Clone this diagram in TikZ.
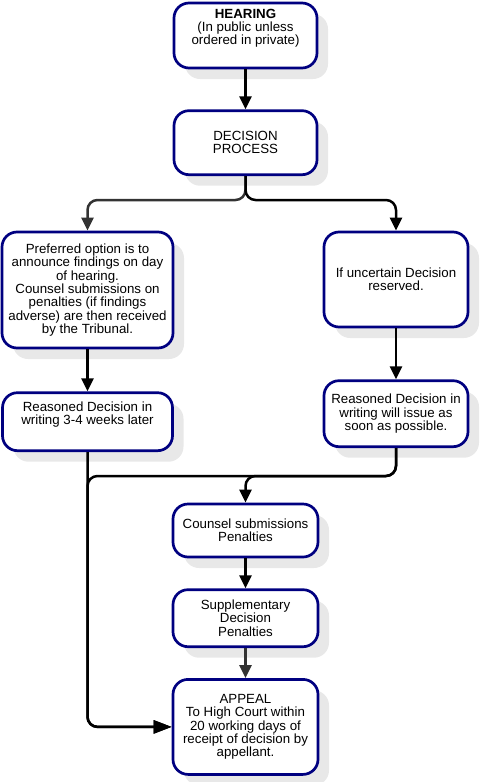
\documentclass[tikz,border=0pt]{standalone}
\usepackage{fontspec}
\setmainfont{Liberation Sans}
\usetikzlibrary{positioning,shadows,arrows.meta}
\definecolor{navy}{RGB}{0,0,128}

\begin{document}
\begin{tikzpicture}[x=1pt,y=-1pt]
		\tikzstyle{BoxStyle}  = [shape=rectangle, rounded corners=15pt, draw=navy, line width=2.7pt, fill=white,
		                         align=center, inner sep=0pt, font=\fontsize{13.3}{13.3}\selectfont,
		                         general shadow={fill=black!9, shadow xshift=11pt, shadow yshift=-11pt}]
		\tikzstyle{EdgeStyle} = [->, >={Triangle[width=12pt,length=13pt]}, line width=2.5pt, rounded corners=10pt]
		\useasboundingbox (0,0) rectangle (482,782);

		\node[BoxStyle, minimum width=143pt, minimum height=65pt] (hear) at (245.5,35.5) {\textbf{HEARING}\\(In public unless\\ordered in private)\\\strut};
		\node[BoxStyle, minimum width=143pt, minimum height=64pt, below=40pt of hear] (dec) {DECISION\\PROCESS};
		\node[BoxStyle, minimum width=171pt, minimum height=116pt] (pref) at (87.5,290) {Preferred option is to\\announce findings on day\\of hearing.\\Counsel submissions on\\penalties (if findings\\adverse) are then received\\by the Tribunal.};
		\node[BoxStyle, minimum width=170pt, minimum height=58pt, below=42pt of pref] (rleft) {Reasoned Decision in\\writing 3-4 weeks later\\\strut};
		\node[BoxStyle, minimum width=144pt, minimum height=95pt] (unc) at (396,279.5) {If uncertain Decision\\reserved.};
		\node[BoxStyle, minimum width=144pt, minimum height=66pt, below=51pt of unc] (rright) {Reasoned Decision in\\writing will issue as\\soon as possible.};
		\node[BoxStyle, minimum width=145pt, minimum height=53pt] (couns) at (245.5,530.5) {Counsel submissions\\Penalties};
		\node[BoxStyle, minimum width=145pt, minimum height=57pt, below=30pt of couns] (supp) {Supplementary\\Decision\\Penalties};
		\node[BoxStyle, minimum width=145pt, minimum height=95pt, below=30pt of supp] (appeal) {APPEAL\\To High Court within\\20 working days of\\receipt of decision by\\appellant.};

		\coordinate (split) at (245.5,200);
		\coordinate (join)  at (245.5,476);
		\coordinate (bend)  at (87.5,476);

		\draw[EdgeStyle] (hear) -- (dec);
		\draw[EdgeStyle, black!80] (dec.south) -- (split) -| (pref.north);
		\draw[EdgeStyle] (dec.south) -- (split) -| (unc.north);
		\draw[EdgeStyle] (pref) -- (rleft);
		\draw[EdgeStyle] (unc) -- (rright);
		\draw[EdgeStyle, >={Triangle[width=13pt,length=18pt]}] (rleft.south) |- (appeal.west);
		\draw[EdgeStyle, >={Triangle[width=13pt,length=18pt]}] (rright.south) |- (bend) |- (appeal.west);
		\draw[EdgeStyle] (rright.south) |- (join) -- (couns.north);
		\draw[EdgeStyle] (couns) -- (supp);
		\draw[EdgeStyle, black!80] (supp) -- (appeal);
	\end{tikzpicture}
\end{document}
